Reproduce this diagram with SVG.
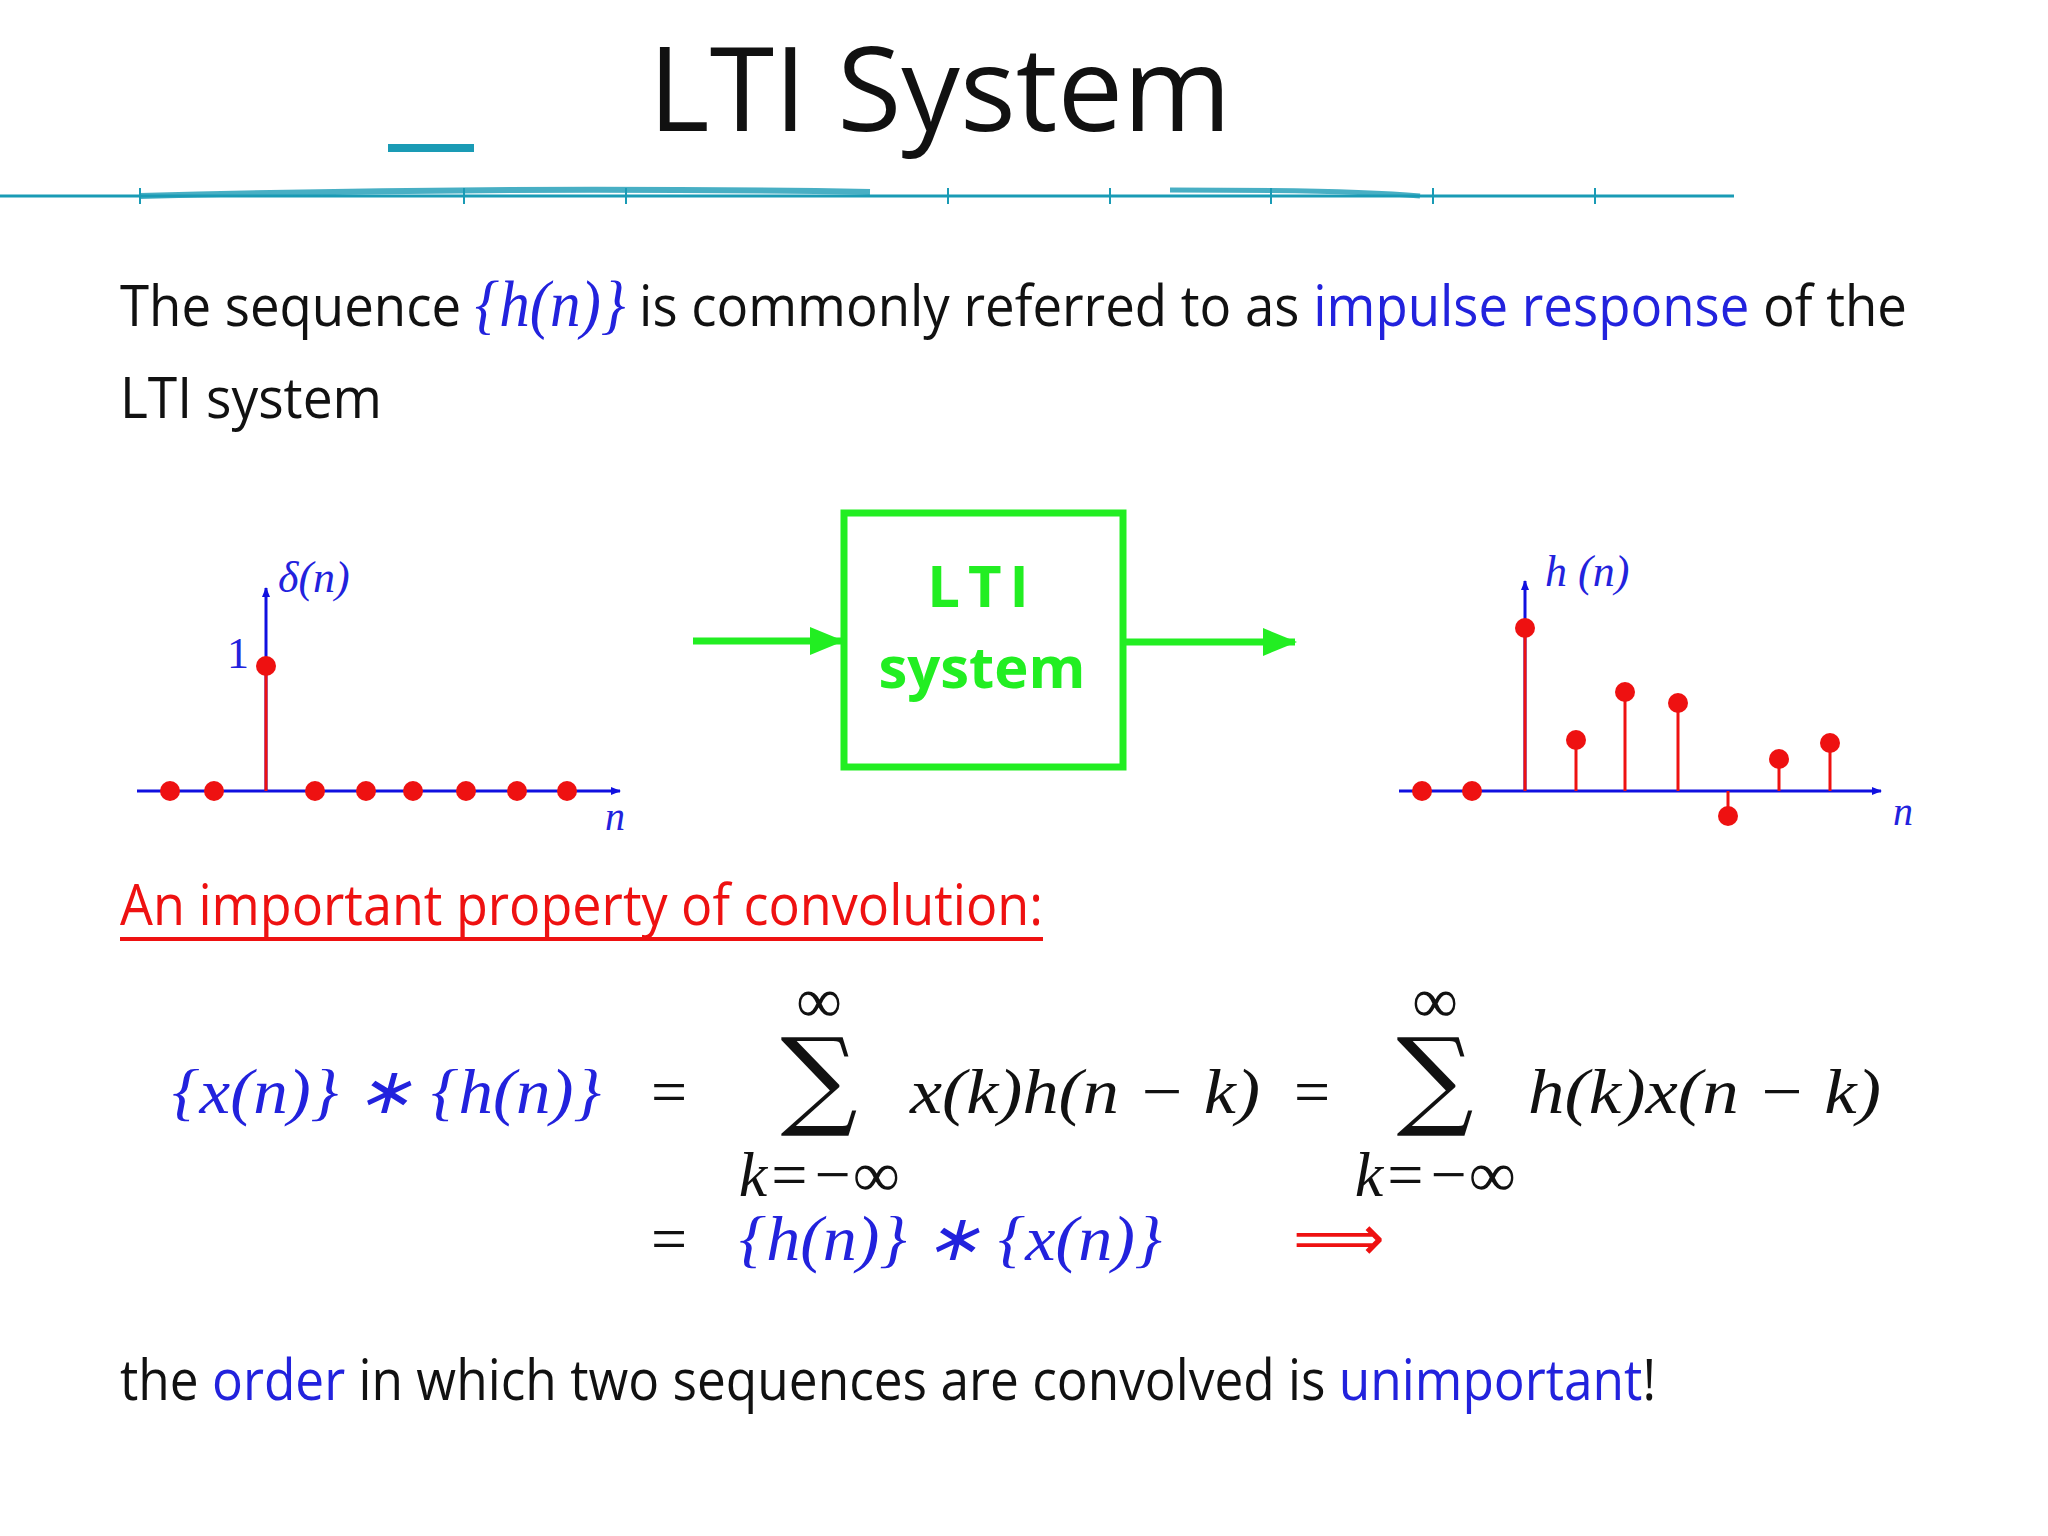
<svg xmlns="http://www.w3.org/2000/svg" width="2048" height="1536" viewBox="0 0 2048 1536">
<defs>
<marker id="ab" markerWidth="10" markerHeight="8" refX="9" refY="4" orient="auto" markerUnits="userSpaceOnUse"><path d="M0,0 L10,4 L0,8 Z" fill="#1010e0"/></marker>
<marker id="ag" markerWidth="34" markerHeight="28" refX="32" refY="14" orient="auto" markerUnits="userSpaceOnUse"><path d="M0,0 L34,14 L0,28 Z" fill="#22ee22"/></marker>
</defs>
<style>
.t{font-family:"Open Sans","Noto Sans",sans-serif;font-size:57px;fill:#111}
.b{fill:#2222dd}
.m{font-family:"Liberation Serif",serif;font-style:italic;font-size:64px}
.mr{font-family:"Liberation Serif",serif;font-size:64px}
.sg{font-family:"DejaVu Serif",serif;font-size:108px;fill:#111}
.ax{stroke:#1010e0;stroke-width:3;fill:none}
.st{stroke:#ee1111;stroke-width:3}
.d{fill:#ee1111}
.g{stroke:#22ee22;stroke-width:7;fill:none}
</style>
<rect width="2048" height="1536" fill="#fff"/>
<g id="title">
<text x="940" y="131" text-anchor="middle" font-family="Open Sans,Noto Sans,sans-serif" font-size="117" fill="#111">LTI System</text>
<rect x="388" y="144" width="86" height="8" fill="#1a9bb5"/>
<line x1="0" y1="196" x2="1734" y2="196" stroke="#1a9bb5" stroke-width="3"/>
<path d="M140,196 Q500,186 870,192" stroke="#1a9bb5" stroke-width="6" fill="none" opacity="0.8"/>
<path d="M1170,190 Q1350,190 1420,196" stroke="#1a9bb5" stroke-width="5" fill="none" opacity="0.8"/>
<g stroke="#1a9bb5" stroke-width="2"><line x1="140" y1="188" x2="140" y2="204"/><line x1="464" y1="188" x2="464" y2="204"/><line x1="626" y1="188" x2="626" y2="204"/><line x1="948" y1="188" x2="948" y2="204"/><line x1="1110" y1="188" x2="1110" y2="204"/><line x1="1271" y1="188" x2="1271" y2="204"/><line x1="1433" y1="188" x2="1433" y2="204"/><line x1="1595" y1="188" x2="1595" y2="204"/></g>
</g>
<g id="intro">
<text class="t" x="120" y="326" textLength="1787" lengthAdjust="spacingAndGlyphs">The sequence <tspan class="b" font-family="Liberation Serif,serif" font-style="italic" font-size="66">{h(n)}</tspan> is commonly referred to as <tspan class="b">impulse response</tspan> of the</text>
<text class="t" x="120" y="418" textLength="262" lengthAdjust="spacingAndGlyphs">LTI system</text>
</g>
<g id="delta-plot">
<line class="ax" x1="137" y1="791" x2="620" y2="791" marker-end="url(#ab)"/>
<line class="ax" x1="266" y1="791" x2="266" y2="588" marker-end="url(#ab)"/>
<line class="st" x1="266" y1="791" x2="266" y2="666"/>
<g class="d"><circle cx="170" cy="791" r="10"/><circle cx="214" cy="791" r="10"/><circle cx="266" cy="666" r="10"/><circle cx="315" cy="791" r="10"/><circle cx="366" cy="791" r="10"/><circle cx="413" cy="791" r="10"/><circle cx="466" cy="791" r="10"/><circle cx="517" cy="791" r="10"/><circle cx="567" cy="791" r="10"/></g>
<text x="238" y="668" font-family="Liberation Serif,serif" font-size="44" fill="#2222dd" text-anchor="middle">1</text>
<text x="278" y="592" font-family="Liberation Serif,serif" font-style="italic" font-size="44" fill="#2222dd">δ(n)</text>
<text x="605" y="830" font-family="Liberation Serif,serif" font-style="italic" font-size="40" fill="#2222dd">n</text>
</g>
<g id="lti-box">
<rect x="844" y="513" width="279" height="254" fill="none" stroke="#22ee22" stroke-width="7"/>
<text x="982" y="607" text-anchor="middle" font-family="Open Sans,sans-serif" font-weight="bold" font-size="58" letter-spacing="8" fill="#22ee22">LTI</text>
<text x="982" y="688" text-anchor="middle" font-family="Open Sans,sans-serif" font-weight="bold" font-size="58" fill="#22ee22">system</text>
</g>
<g id="connectors">
<line class="g" x1="693" y1="641" x2="842" y2="641" marker-end="url(#ag)"/>
<line class="g" x1="1126" y1="642" x2="1295" y2="642" marker-end="url(#ag)"/>
</g>
<g id="h-plot">
<line class="ax" x1="1399" y1="791" x2="1881" y2="791" marker-end="url(#ab)"/>
<line class="ax" x1="1525" y1="791" x2="1525" y2="581" marker-end="url(#ab)"/>
<g class="st"><line x1="1525" y1="791" x2="1525" y2="628"/><line x1="1576" y1="791" x2="1576" y2="740"/><line x1="1625" y1="791" x2="1625" y2="692"/><line x1="1678" y1="791" x2="1678" y2="703"/><line x1="1728" y1="791" x2="1728" y2="816"/><line x1="1779" y1="791" x2="1779" y2="759"/><line x1="1830" y1="791" x2="1830" y2="743"/></g>
<g class="d"><circle cx="1422" cy="791" r="10"/><circle cx="1472" cy="791" r="10"/><circle cx="1525" cy="628" r="10"/><circle cx="1576" cy="740" r="10"/><circle cx="1625" cy="692" r="10"/><circle cx="1678" cy="703" r="10"/><circle cx="1728" cy="816" r="10"/><circle cx="1779" cy="759" r="10"/><circle cx="1830" cy="743" r="10"/></g>
<text x="1545" y="586" font-family="Liberation Serif,serif" font-style="italic" font-size="44" fill="#2222dd">h (n)</text>
<text x="1893" y="825" font-family="Liberation Serif,serif" font-style="italic" font-size="40" fill="#2222dd">n</text>
</g>
<g id="property">
<text class="t" x="120" y="925" textLength="923" lengthAdjust="spacingAndGlyphs" style="fill:#ee1111">An important property of convolution:</text>
<line x1="120" y1="939" x2="1043" y2="939" stroke="#ee1111" stroke-width="4"/>
</g>
<g id="equation">
<text class="m b" x="172" y="1113" textLength="429" lengthAdjust="spacingAndGlyphs">{x(n)} ∗ {h(n)}</text>
<text class="mr" x="669" y="1113" text-anchor="middle" fill="#111">=</text>
<text class="sg" x="819" y="1115" text-anchor="middle">∑</text>
<text class="mr" x="819" y="1022" text-anchor="middle" font-size="50" fill="#111">∞</text>
<text class="m" x="819" y="1196" text-anchor="middle" font-size="48" fill="#111">k=−∞</text>
<text class="m" x="910" y="1113" fill="#111" textLength="350" lengthAdjust="spacingAndGlyphs">x(k)h(n − k)</text>
<text class="mr" x="1312" y="1113" text-anchor="middle" fill="#111">=</text>
<text class="sg" x="1435" y="1115" text-anchor="middle">∑</text>
<text class="mr" x="1435" y="1022" text-anchor="middle" font-size="50" fill="#111">∞</text>
<text class="m" x="1435" y="1196" text-anchor="middle" font-size="48" fill="#111">k=−∞</text>
<text class="m" x="1528" y="1113" fill="#111" textLength="353" lengthAdjust="spacingAndGlyphs">h(k)x(n − k)</text>
<text class="mr" x="669" y="1260" text-anchor="middle" fill="#111">=</text>
<text class="m b" x="739" y="1260" textLength="423" lengthAdjust="spacingAndGlyphs">{h(n)} ∗ {x(n)}</text>
<text class="mr" x="1339" y="1260" text-anchor="middle" font-size="70" fill="#ee1111">⟹</text>
</g>
<g id="conclusion">
<text class="t" x="120" y="1400" textLength="1536" lengthAdjust="spacingAndGlyphs">the <tspan class="b">order</tspan> in which two sequences are convolved is <tspan class="b">unimportant</tspan>!</text>
</g>
</svg>
